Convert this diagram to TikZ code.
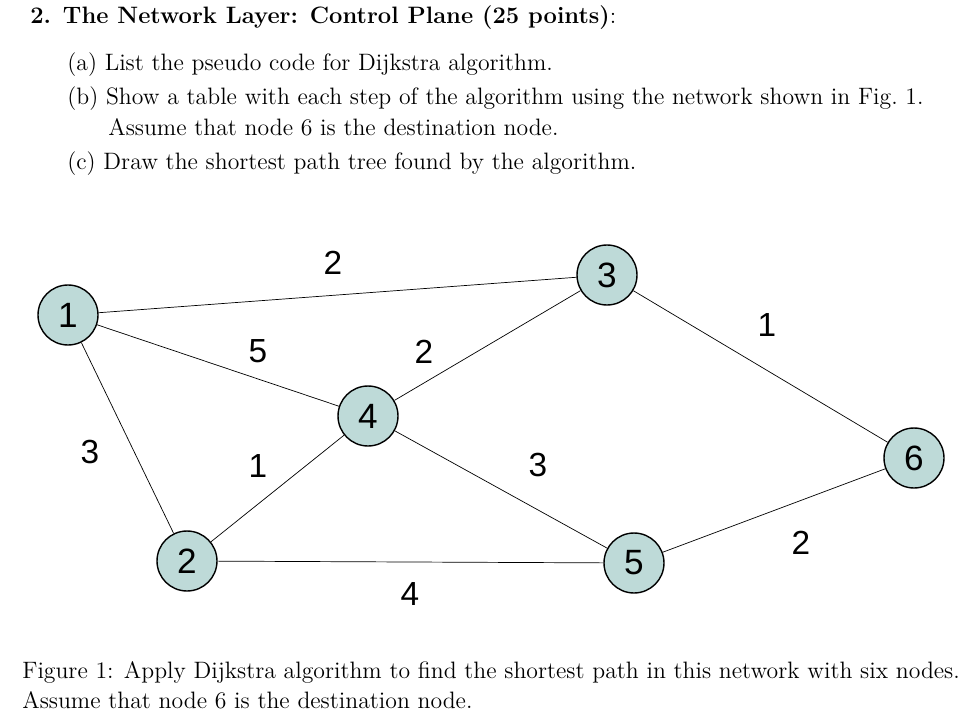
\documentclass[tikz,border=0pt]{standalone}
\usepackage{fontspec}
\newfontfamily\figsans{Liberation Sans}
\definecolor{nodefill}{RGB}{190,218,216}
\begin{document}
\begin{tikzpicture}[x=0.02cm,y=-0.02cm,
  vertex/.style={circle,draw,thick,fill=nodefill,minimum size=1.2cm,inner sep=0pt,font=\figsans\fontsize{20}{20}\selectfont},
  wt/.style={font=\figsans\fontsize{19}{19}\selectfont},
  txt/.style={anchor=west,inner sep=0pt,font=\fontsize{13.5}{16}\selectfont}]
\useasboundingbox (0,0) rectangle (970,723);
% question text
\node[txt] (q) at (30,18) {\textbf{2. The Network Layer: Control Plane (25 points)}:};
\node[txt] (qa) at (67,65) {(a) List the pseudo code for Dijkstra algorithm.};
\node[txt] (qb) at (67,99) {(b) Show a table with each step of the algorithm using the network shown in Fig.~1.};
\node[txt] (qb2) at (108,127) {Assume that node 6 is the destination node.};
\node[txt] (qc) at (67,164) {(c) Draw the shortest path tree found by the algorithm.};
% the network
\node[vertex] (n1) at (68,315) {1};
\node[vertex] (n3) at (607,275) {3};
\node[vertex] (n4) at (368,416) {4};
\node[vertex] (n2) at (187,561) {2};
\node[vertex] (n5) at (634,563) {5};
\node[vertex] (n6) at (914,458) {6};
\draw (n1) -- (n3);
\draw (n1) -- (n4);
\draw (n1) -- (n2);
\draw (n3) -- (n4);
\draw (n3) -- (n6);
\draw (n4) -- (n2);
\draw (n4) -- (n5);
\draw (n2) -- (n5);
\draw (n5) -- (n6);
% weights
\node[wt] (w13) at (333,263) {2};
\node[wt] (w14) at (258,351) {5};
\node[wt] (w34) at (424,352) {2};
\node[wt] (w36) at (767,325) {1};
\node[wt] (w12) at (90,452) {3};
\node[wt] (w24) at (258,466) {1};
\node[wt] (w45) at (538,465) {3};
\node[wt] (w56) at (801,543) {2};
\node[wt] (w25) at (410,594) {4};
% caption
\node[txt] (cap) at (22,672) {Figure 1: Apply Dijkstra algorithm to find the shortest path in this network with six nodes.};
\node[txt] (cap2) at (22,700) {Assume that node 6 is the destination node.};
\end{tikzpicture}
\end{document}
